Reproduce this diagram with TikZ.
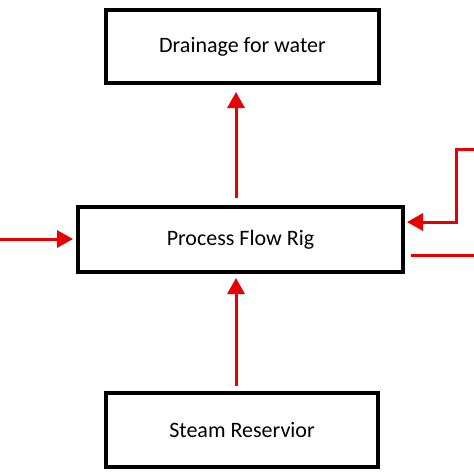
\documentclass[tikz,border=0pt]{standalone}
\usepackage{fontspec}
\setmainfont{Carlito}
\usetikzlibrary{arrows.meta,positioning}
\definecolor{flowred}{RGB}{232,0,0}
\definecolor{ink}{RGB}{0,0,0}
\tikzset{
  box/.style={
    draw=ink,
    line width=4pt,
    fill=white,
    align=center,
    inner sep=0pt,
    font=\fontsize{22}{25}\selectfont
  },
  flow/.style={-{Triangle[length=16pt,width=17pt]}, line width=3pt, draw=flowred},
  pipe/.style={line width=3pt, draw=flowred},
}
\begin{document}
\begin{tikzpicture}[x=1pt,y=-1pt]
\useasboundingbox (0,0) rectangle (474,474);

\node[box, minimum width=273pt, minimum height=73pt] (drain) at (242.5,46.5) {Drainage for water};
\node[box, minimum width=325pt, minimum height=65pt] (rig) at (240.5,239.5) {Process Flow Rig};
\node[box, minimum width=272pt, minimum height=74pt] (steam) at (242,430) {Steam Reservior};

\coordinate (axis) at (236,0);
\coordinate (feedin) at (0,239);
\coordinate (loopend) at (474,149);
\coordinate (loopturn) at (456,149);
\coordinate (retin) at (456,222);
\coordinate (outend) at (474,255);

\draw[flow, shorten <=7pt, shorten >=7pt] (rig.north -| axis) -- (drain.south -| axis);
\draw[flow, shorten <=5pt, shorten >=4pt] (steam.north -| axis) -- (rig.south -| axis);
\draw[flow, shorten >=3pt] (feedin) -- (rig.west |- feedin);
\draw[flow, shorten >=2pt] (loopend) -- (loopturn) -- (retin) -- (rig.east |- retin);
\draw[pipe, shorten <=6pt] (rig.east |- outend) -- (outend);

\end{tikzpicture}
\end{document}
